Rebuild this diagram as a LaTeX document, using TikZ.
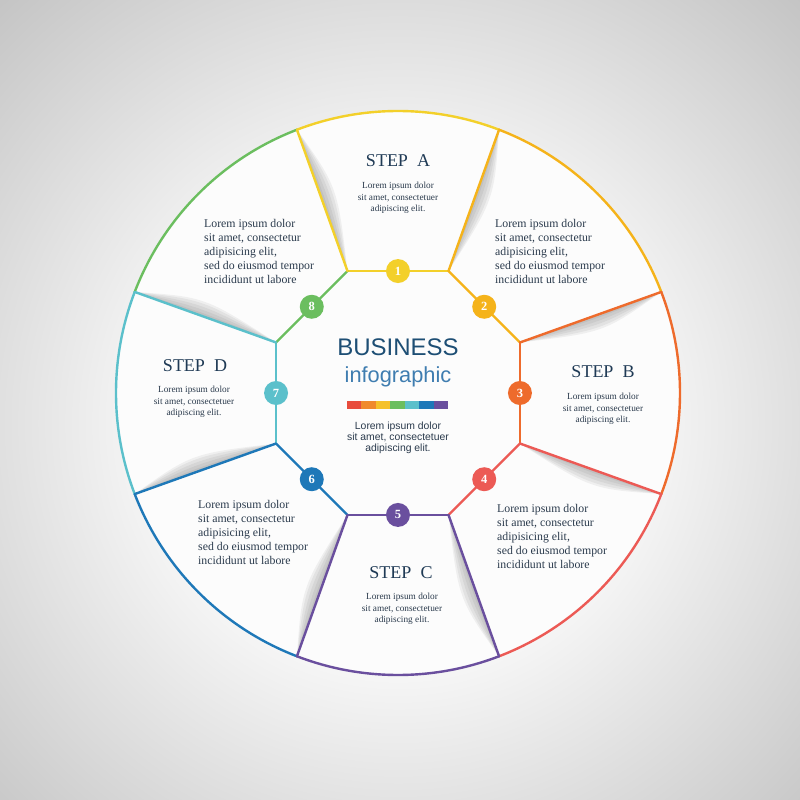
\documentclass[tikz,border=0pt]{standalone}
\usepackage{fontspec}
\setmainfont{Liberation Serif}
\setsansfont{Liberation Sans}
\usetikzlibrary{calc}

\definecolor{stepyellow}{HTML}{F3D02A}
\definecolor{stepgold}{HTML}{F5B31A}
\definecolor{steporange}{HTML}{EE6B2C}
\definecolor{stepred}{HTML}{EC5A55}
\definecolor{steppurple}{HTML}{6A4F9E}
\definecolor{stepblue}{HTML}{1E78B8}
\definecolor{stepcyan}{HTML}{5BC0CB}
\definecolor{stepgreen}{HTML}{6BBE5F}
\definecolor{inktitle}{HTML}{1F3A55}
\definecolor{inkbiz}{HTML}{1D4E74}
\definecolor{inkinfo}{HTML}{3F7DB0}
\definecolor{inkbody}{HTML}{2A3A4C}
\definecolor{bar1}{HTML}{E84C3D}
\definecolor{bar2}{HTML}{F08A2C}
\definecolor{bar3}{HTML}{F5C12A}
\definecolor{bar4}{HTML}{6BBE5F}
\definecolor{bar5}{HTML}{5BC0CB}
\definecolor{bar6}{HTML}{1E78B8}
\definecolor{bar7}{HTML}{6A4F9E}

\pgfdeclareradialshading{backglow}{\pgfpoint{0bp}{0bp}}{color(0bp)=(white); color(10bp)=(white!97!black); color(25bp)=(white!76!black); color(50bp)=(white!76!black)}

\tikzset{
  ring/.style={line width=2.4pt, line cap=round, line join=round},
  badge/.style={circle, fill=#1, minimum size=24pt, inner sep=0pt, text=white,
    font=\bfseries\fontsize{12.5}{12.5}\selectfont},
  steptitle/.style={text=inktitle, inner sep=0pt, font=\fontsize{18}{18}\selectfont},
  stepnote/.style={text=inkbody, align=center, inner sep=0pt, font=\fontsize{9.3}{11.3}\selectfont},
  wedgenote/.style={text=inkbody, align=left, anchor=west, inner sep=0pt, font=\fontsize{11.8}{14}\selectfont},
}

\begin{document}
\begin{tikzpicture}[x=1pt,y=1pt]
  \begin{scope}
    \clip (-398,393) rectangle (402,-407);
    \shade[shading=backglow] (0,-30) circle (600);
  \end{scope}
  \useasboundingbox (-398,393) rectangle (402,-407);
  \fill[white!99!black] (0,0) circle (282);

  \foreach \a [count=\i] in {112.5,67.5,22.5,-22.5,-67.5,-112.5,-157.5,157.5}
    \coordinate (v\i) at (\a:132);
  \foreach \a [count=\i] in {111,69,21,-21,-69,-111,-159,159}
    \coordinate (p\i) at (\a:282);

  % soft shadows next to the spokes
  \foreach \i in {1,...,8}
    \foreach \w in {4,8,12,16,19}
      \fill[black,opacity=0.05] (v\i) .. controls ($(v\i)!0.55!(p\i)!\w pt!-90:(p\i)$) .. (p\i) -- cycle;

  \foreach \i/\j/\s/\e/\c in {1/2/111/69/stepyellow, 2/3/69/21/stepgold, 3/4/21/-21/steporange,
      4/5/-21/-69/stepred, 5/6/-69/-111/steppurple, 6/7/-111/-159/stepblue,
      7/8/201/159/stepcyan, 8/1/159/111/stepgreen} {
    \draw[ring,\c] (v\i) -- (v\j);
    \draw[ring,\c] (p\i) arc[start angle=\s, end angle=\e, radius=282];
  }
  \foreach \i/\c in {1/stepyellow, 2/stepgold, 3/steporange, 4/stepred,
      5/steppurple, 6/steppurple, 7/stepblue, 8/stepcyan}
    \draw[ring,\c] (v\i) -- (p\i);

  \foreach \i/\j/\c in {1/2/stepyellow, 2/3/stepgold, 3/4/steporange, 4/5/stepred,
      5/6/steppurple, 6/7/stepblue, 7/8/stepcyan, 8/1/stepgreen}
    \node[badge=\c] (b\i) at ($(v\i)!0.5!(v\j)$) {\i};

  \node[steptitle] (titleA) at (0,232) {STEP\ \ A};
  \node[stepnote] (noteA) at (0,195) {Lorem ipsum dolor\\sit amet, consectetuer\\adipiscing elit.};
  \node[steptitle] (titleB) at (205,21) {STEP\ \ B};
  \node[stepnote] (noteB) at (205,-16) {Lorem ipsum dolor\\sit amet, consectetuer\\adipiscing elit.};
  \node[steptitle] (titleC) at (3,-180) {STEP\ \ C};
  \node[stepnote] (noteC) at (4,-216) {Lorem ipsum dolor\\sit amet, consectetuer\\adipiscing elit.};
  \node[steptitle] (titleD) at (-203,27) {STEP\ \ D};
  \node[stepnote] (noteD) at (-204,-9) {Lorem ipsum dolor\\sit amet, consectetuer\\adipiscing elit.};

  \node[wedgenote] (note2) at (97,142) {Lorem ipsum dolor\\sit amet, consectetur\\adipisicing elit,\\sed do eiusmod tempor\\incididunt ut labore};
  \node[wedgenote] (note4) at (99,-143) {Lorem ipsum dolor\\sit amet, consectetur\\adipisicing elit,\\sed do eiusmod tempor\\incididunt ut labore};
  \node[wedgenote] (note6) at (-200,-139) {Lorem ipsum dolor\\sit amet, consectetur\\adipisicing elit,\\sed do eiusmod tempor\\incididunt ut labore};
  \node[wedgenote] (note8) at (-194,142) {Lorem ipsum dolor\\sit amet, consectetur\\adipisicing elit,\\sed do eiusmod tempor\\incididunt ut labore};

  \node[anchor=base, inner sep=0pt, text=inkbiz, font=\sffamily\fontsize{24}{24}\selectfont] (biz) at (0,37) {BUSINESS};
  \node[anchor=base, inner sep=0pt, text=inkinfo, font=\sffamily\fontsize{21.8}{22}\selectfont] (info) at (0,10) {infographic};
  \foreach \k in {1,...,7}
    \fill[bar\k] (-51+\k*14.43-14.43,-8) rectangle ++(14.43,-8);
  \node[align=center, inner sep=0pt, text=inkbody, font=\sffamily\fontsize{10.4}{11}\selectfont] (blurb) at (0,-45)
    {Lorem ipsum dolor\\sit amet, consectetuer\\adipiscing elit.};
\end{tikzpicture}
\end{document}
